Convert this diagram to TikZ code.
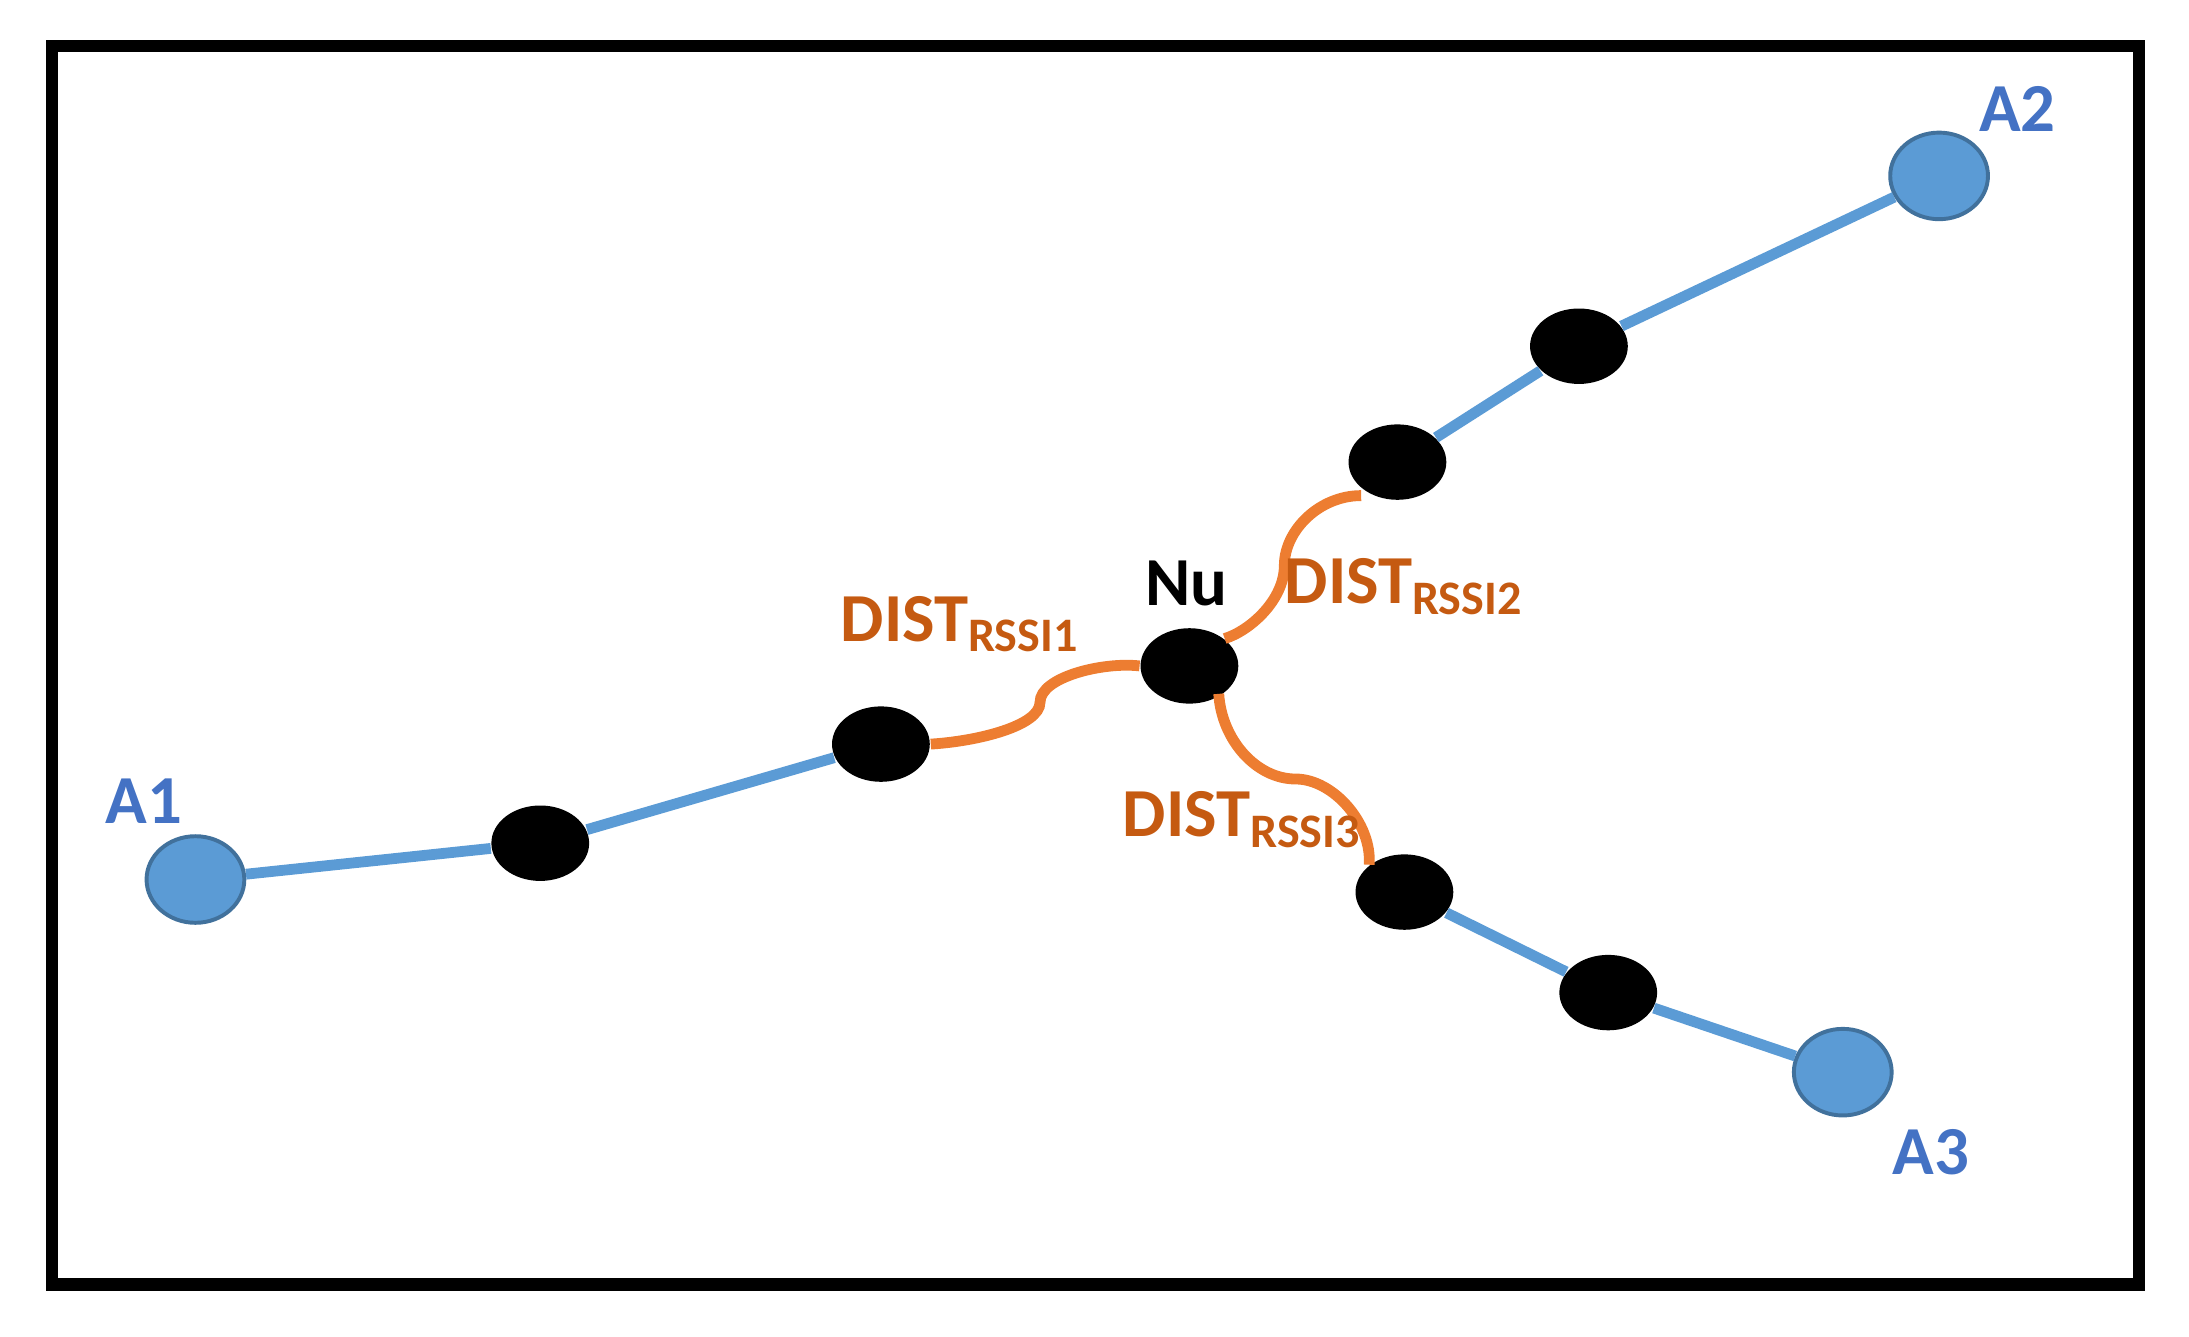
\documentclass[tikz,border=0pt]{standalone}
\usepackage{fontspec}
\setmainfont{Carlito}
\usetikzlibrary{shapes.geometric}
\definecolor{anfill}{RGB}{91,155,213}
\definecolor{andraw}{RGB}{65,113,156}
\definecolor{orline}{RGB}{237,125,49}
\definecolor{bltext}{RGB}{68,114,196}
\definecolor{ortext}{RGB}{197,90,17}
\begin{document}
\begin{tikzpicture}[x=0.01cm,y=-0.01cm,
  anc/.style={ellipse,draw=andraw,fill=anfill,line width=0.8pt,minimum width=0.70cm,minimum height=0.62cm,inner sep=0},
  hop/.style={ellipse,fill=black,minimum width=0.70cm,minimum height=0.54cm,inner sep=0},
  bl/.style={draw=anfill,line width=2.2pt},
  orl/.style={draw=orline,line width=2.2pt},
  lb/.style={font=\fontsize{14}{16}\selectfont\bfseries,text=bltext},
  ol/.style={font=\fontsize{14}{16}\selectfont\bfseries,text=ortext}]
\useasboundingbox (0,0) rectangle (1568,957);
\draw[line width=2.5pt] (37,33) rectangle (1532,920);
\node[anc] (A1) at (140,630) {};
\node[anc] (A2) at (1389,126) {};
\node[anc] (A3) at (1320,768) {};
\foreach \n/\x/\y in {a/387/604,b/631/533,nu/852/477,c/1001/331,d/1131/248,e/1006/639,f/1152/711}
  \node[hop] (\n) at (\x,\y) {};
\draw[bl] (A1) -- (a) -- (b);
\draw[bl] (c) -- (d) -- (A2);
\draw[bl] (e) -- (f) -- (A3);
\coordinate (p1) at (b.east);
\coordinate (p2) at (nu.west);
\draw[orl] (p1) .. controls (700,531) and (745,520) .. (745,503) .. controls (745,485) and (790,474) .. (p2);
\coordinate (q1) at (nu.north east);
\coordinate (q2) at (975,355);
\draw[orl] (q1) .. controls (895,452) and (920,430) .. (920,405) .. controls (920,380) and (945,355) .. (q2);
\coordinate (r1) at (873,497);
\coordinate (r2) at (e.north west);
\draw[orl] (r1) .. controls (875,530) and (900,558) .. (928,558) .. controls (955,558) and (983,590) .. (r2);
\node[lb] (l1) at (103,574) {A1};
\node[lb] (l2) at (1445,78) {A2};
\node[lb] (l3) at (1383,825) {A3};
\node[font=\fontsize{14}{16}\selectfont\bfseries] (lnu) at (850,418) {Nu};
\node[ol] (d1) at (688,447) {DIST\textsubscript{RSSI1}};
\node[ol] (d2) at (1006,420) {DIST\textsubscript{RSSI2}};
\node[ol] (d3) at (890,587) {DIST\textsubscript{RSSI3}};
\end{tikzpicture}
\end{document}
